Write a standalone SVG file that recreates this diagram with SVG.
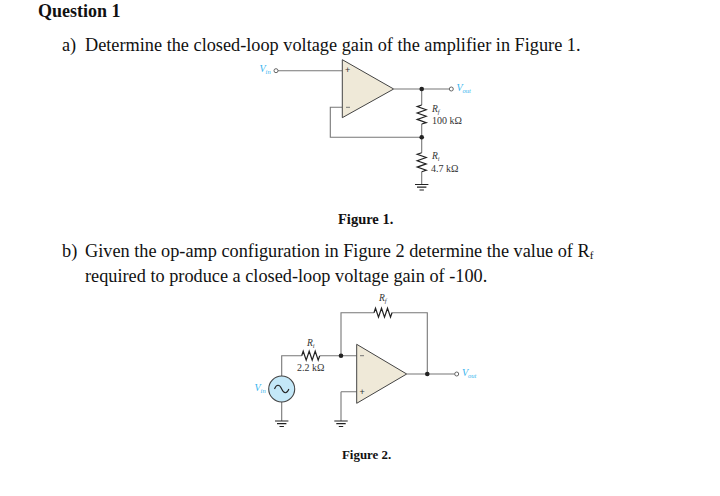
<svg xmlns="http://www.w3.org/2000/svg" width="720" height="496" viewBox="0 0 720 496">
<defs><style>
.t{font-family:"Liberation Serif","Times New Roman",serif;fill:#111}
.q{font-size:18.28px}
.b{font-weight:bold}
.w{fill:none;stroke:#777;stroke-width:1.1}
.r{fill:none;stroke:#222;stroke-width:1.2}
.op{fill:#efe9d8;stroke:#444;stroke-width:1}
.d{fill:#222}
.o{fill:#fff;stroke:#555;stroke-width:.9}
.v{font-family:"Liberation Serif",serif;font-style:italic;font-size:10px;fill:#35b4ee}
.l{font-family:"Liberation Serif",serif;font-size:10px;fill:#333}
.li{font-family:"Liberation Serif",serif;font-style:italic;font-size:9.5px;fill:#333}
.s{font-size:6.500px}
.sg{fill:#333;font-size:9px;font-family:"Liberation Sans",sans-serif}
</style></defs>
<g id="text">
<text class="t b" x="38" y="17" font-size="18">Question 1</text>
<text class="t q" x="62" y="51">a)<tspan x="85">Determine the closed-loop voltage gain of the amplifier in Figure 1.</tspan></text>
<text class="t b" x="338" y="224" font-size="14.5">Figure 1.</text>
<text class="t q" x="62" y="257">b)<tspan x="85">Given the op-amp configuration in Figure 2 determine the value of R</tspan><tspan font-size="11" dy="2">f</tspan></text>
<text class="t q" x="85" y="282">required to produce a closed-loop voltage gain of -100.</text>
<text class="t b" x="342" y="459" font-size="12.900">Figure 2.</text>
</g>
<g id="connectors">
<path class="w" d="M278 70.700H342M394 89H449M421.700 89V105M421.700 124V152.700M421.700 137.300H330.300V107.300H342M421.700 171.700V184"/>
<path class="w" d="M341 391.700V421M341 391.700H356.700M341 355.700V312.700H374M391.700 312.700H427.300V374M281.700 376V355.700H301.700M320 355.700H356.700M281.700 402V421M406.700 374H454.700"/>
</g>
<g id="fig1-opamp"><path class="op" d="M342.300 59.700V117.700L393.700 89Z"/><text class="sg" x="345" y="73">+</text><path d="M346 107.300h4" stroke="#777"/></g>
<g id="fig1-vin"><circle class="o" cx="276" cy="70.700" r="2"/><text class="v" x="259.500" y="72">V<tspan class="s" dy="1.500">in</tspan></text></g>
<g id="fig1-vout"><circle class="o" cx="451.300" cy="89" r="2"/><text class="v" x="456.500" y="91">V<tspan class="s" dy="1.500">out</tspan></text></g>
<g id="fig1-j1"><circle class="d" cx="421.700" cy="89" r="2.300"/></g>
<g id="fig1-j2"><circle class="d" cx="421.700" cy="137.300" r="2.300"/></g>
<g id="fig1-rf"><path class="r" d="M421.700 105l-4.500 1.600 9 3.200-9 3.200 9 3.200-9 3.200 9 3.200-4.500 1.400"/><text class="li" x="432" y="112">R<tspan class="s" dy="1.500">f</tspan></text><text class="l" x="432" y="124">100 kΩ</text></g>
<g id="fig1-ri"><path class="r" d="M421.700 152.700l-4.500 1.600 9 3.200-9 3.200 9 3.200-9 3.200 9 3.200-4.500 1.400"/><text class="li" x="432" y="159">R<tspan class="s" dy="1.500">i</tspan></text><text class="l" x="431" y="172">4.7 kΩ</text></g>
<g id="fig1-gnd"><path class="r" d="M415 184.500h13.400M417 187.200h9.400M419.500 190h4.400"/></g>
<g id="fig2-opamp"><path class="op" d="M356.700 344.300V403.300L406.700 374Z"/><path d="M360 355.700h4" stroke="#777"/><text class="sg" x="359.500" y="395">+</text></g>
<g id="fig2-rf"><path class="r" d="M374 312.700l1.500-4.500 3 9 3-9 3 9 3-9 3 9 1.500-4.500"/><text class="li" x="379" y="301">R<tspan class="s" dy="1.500">f</tspan></text></g>
<g id="fig2-ri"><path class="r" d="M301.700 355.700l1.500-4.500 3 9 3-9 3 9 3-9 3 9 1.500-4.500"/><text class="li" x="307" y="346">R<tspan class="s" dy="1.500">i</tspan></text><text class="l" x="297" y="371">2.2 kΩ</text></g>
<g id="fig2-j1"><circle class="d" cx="341" cy="355.700" r="2.300"/></g>
<g id="fig2-j2"><circle class="d" cx="427.300" cy="374" r="2.300"/></g>
<g id="fig2-source"><circle cx="281.700" cy="389" r="13" fill="#c4e8f8" stroke="#444" stroke-width="1.100"/><path d="M274.500 389c2-5 5-5 7.200 0s5.200 5 7.200 0" fill="none" stroke="#222" stroke-width="1.100"/><text class="v" x="254.500" y="391">V<tspan class="s" dy="1.500">in</tspan></text></g>
<g id="fig2-vout"><circle class="o" cx="456.700" cy="374" r="2"/><text class="v" x="462" y="376">V<tspan class="s" dy="1.500">out</tspan></text></g>
<g id="fig2-gnd1"><path class="r" d="M275 421h13.400M277 423.700h9.400M279.500 426.500h4.400"/></g>
<g id="fig2-gnd2"><path class="r" d="M334.300 421h13.400M336.300 423.700h9.400M338.800 426.500h4.400"/></g>
</svg>
